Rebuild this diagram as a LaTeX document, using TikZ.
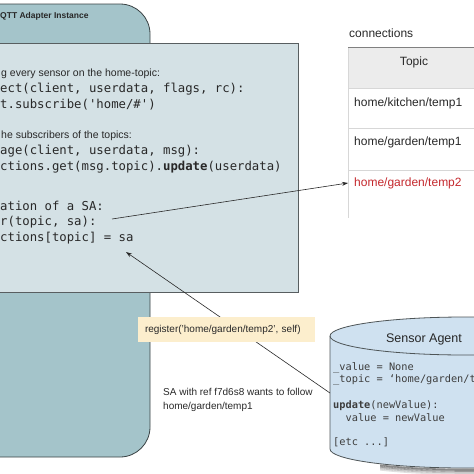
\documentclass[tikz,border=0pt]{standalone}
\usepackage{fontspec}
\setmainfont{Liberation Sans}
\newfontfamily\codefont{DejaVu Sans Mono}
\usetikzlibrary{arrows.meta}
\definecolor{outerfill}{RGB}{164,196,202}
\definecolor{innerfill}{RGB}{212,225,229}
\definecolor{cylfill}{RGB}{207,225,240}
\definecolor{yelfill}{RGB}{252,238,205}
\definecolor{hdrfill}{RGB}{236,236,236}
\definecolor{redtxt}{RGB}{196,40,45}
\definecolor{edgecol}{RGB}{58,66,68}
\definecolor{txtcol}{RGB}{40,40,40}
\definecolor{rulecol}{RGB}{215,215,215}
\begin{document}
\begin{tikzpicture}[x=1pt,y=-1pt,
  comment/.style={anchor=west, inner sep=0pt, text=txtcol, font=\fontsize{10.5}{12}\selectfont, text height=9.5pt, text depth=2pt},
  codeline/.style={anchor=west, inner sep=0pt, text=txtcol, font=\codefont\fontsize{12.3}{14}\selectfont, text height=10.6pt, text depth=2pt},
  cylcode/.style={anchor=west, inner sep=0pt, text=txtcol!90, font=\codefont\fontsize{10.3}{12}\selectfont, text height=9pt, text depth=2pt},
  cell/.style={anchor=west, inner xsep=6pt, inner ysep=0pt, font=\fontsize{12}{14}\selectfont, text=txtcol, text height=10pt, text depth=2.5pt},
  conn/.style={draw=txtcol, line width=0.6pt, -{Stealth[length=6pt,width=4pt]}},
  callbox/.style={fill=yelfill, inner xsep=7pt, inner ysep=0pt, minimum height=25pt, text width=163pt, align=left, font=\fontsize{10}{12}\selectfont, text=txtcol},
  plain/.style={inner sep=0pt, text=txtcol}
]
\useasboundingbox (0,0) rectangle (474,474);
\clip (0,0) rectangle (474,474);

% outer adapter instance shape
\draw[fill=outerfill, draw=edgecol, line width=0.8pt, rounded corners=30pt]
  (-20,4) -- (150,4) -- (150,457) -- (-20,457);
\node[plain, anchor=west, font=\bfseries\fontsize{8.5}{10}\selectfont] (title) at (0,16) {QTT Adapter Instance};

% inner code box
\draw[fill=innerfill, draw=edgecol!85, line width=0.7pt] (-20,43) rectangle (298,292);
\node[comment] (l1) at (1,73) {g every sensor on the home-topic:};
\node[codeline] (l2) at (0,88) {ect(client, userdata, flags, rc):};
\node[codeline] (l3) at (0,104) {t.subscribe('home/\#')};
\node[comment] (l4) at (1,135) {he subscribers of the topics:};
\node[codeline] (l5) at (0,150) {age(client, userdata, msg):};
\node[codeline] (l6) at (0,166) {ctions.get(msg.topic).\textbf{update}(userdata)};
\node[codeline] (l7) at (0,206) {ation of a SA:};
\node[codeline] (l8) at (0,221) {r(topic, sa):};
\node[codeline] (l9) at (0,237) {ctions[topic] = sa};

% connections table
\node[plain, anchor=west, font=\fontsize{12}{14}\selectfont] (connlbl) at (349,33) {connections};
\fill[hdrfill] (348,47) rectangle (480,88);
\draw[rulecol, line width=0.6pt] (348,88) -- (480,88);
\draw[rulecol, line width=0.6pt] (348,128) -- (480,128);
\draw[rulecol, line width=0.6pt] (348,170) -- (480,170);
\draw[rulecol, line width=0.6pt] (348,47) -- (348,218);
\draw[gray, line width=0.7pt] (348,47) -- (480,47);
\node[plain, font=\fontsize{12}{14}\selectfont] (hdr) at (414,62) {Topic};
\node[cell] (row1) at (348,103) {home/kitchen/temp1};
\node[cell] (row2) at (348,142) {home/garden/temp1};
\node[cell, text=redtxt] (row3) at (348,183) {home/garden/temp2};

% sensor agent cylinder
\fill[cylfill] (330,336) rectangle (620,449);
\fill[cylfill] (465,449) ellipse[x radius=135pt, y radius=19pt];
\begin{scope}
  \clip (380,440) rectangle (474,474);
  \foreach \d/\o in {1.5/0.45,3/0.35,4.5/0.22,6/0.12}
    \draw[black, opacity=\o, line width=1.6pt] (330,{449+\d}) arc[start angle=180, end angle=360, x radius=135pt, y radius=19pt];
\end{scope}
\draw[fill=cylfill, draw=edgecol!90, line width=0.8pt] (465,336) ellipse[x radius=135pt, y radius=19pt];
\draw[edgecol!90, line width=0.8pt] (330,336) -- (330,449) arc[start angle=180, end angle=360, x radius=135pt, y radius=19pt];
\node[plain, font=\fontsize{12.5}{14}\selectfont, text=black!85] (saname) at (424,339) {Sensor Agent};
\node[cylcode] (c1) at (333,367) {\_value = None};
\node[cylcode] (c2) at (333,379) {\_topic = ‘home/garden/t};
\node[cylcode] (c3) at (333,405) {\textbf{update}(newValue):};
\node[cylcode] (c4) at (333,418) {\phantom{xx}value = newValue};
\node[cylcode] (c5) at (333,442) {[etc ...]};

% connectors
\coordinate (regstart) at (112,219);
\coordinate (cylw) at (330,393);
\coordinate (saend) at (126,252);
\draw[conn] (regstart) -- (row3.west);
\draw[conn] (cylw) -- (saend);
\node[callbox] (regcall) at (226.5,329.5) {register('home/garden/temp2', self)};

\node[plain, anchor=west, align=left, font=\fontsize{10}{14}\selectfont] (sanote) at (163,400) {SA with ref f7d6s8 wants to follow\\home/garden/temp1};
\end{tikzpicture}
\end{document}
